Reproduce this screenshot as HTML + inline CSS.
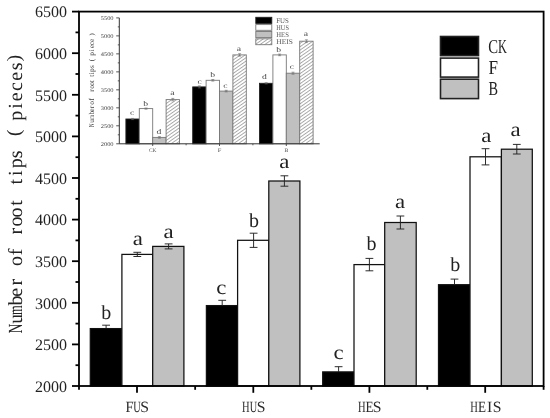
<!DOCTYPE html><html><head><meta charset="utf-8"><style>html,body{margin:0;padding:0;background:#fff;}svg{display:block;} text{text-rendering:geometricPrecision;}</style></head><body>
<svg width="550" height="418" viewBox="0 0 550 418">
<defs><pattern id="hatch" patternUnits="userSpaceOnUse" width="4" height="2.75" patternTransform="rotate(-35)"><rect width="4" height="2.75" fill="#fff"/><line x1="0" y1="1.4" x2="4" y2="1.4" stroke="#999" stroke-width="0.85"/></pattern></defs>
<rect width="550" height="418" fill="#fff"/>
<rect x="90.30" y="328.60" width="31.60" height="57.40" fill="#000" stroke="#111" stroke-width="1.25"/>
<rect x="121.90" y="254.40" width="30.80" height="131.60" fill="#fff" stroke="#111" stroke-width="1.25"/>
<rect x="152.70" y="246.40" width="31.20" height="139.60" fill="#c0c0c0" stroke="#111" stroke-width="1.25"/>
<path d="M106.10 325.20V328.60M102.20 325.20h7.8" stroke="#222" stroke-width="0.95" fill="none"/>
<text x="101.33" y="318.70" font-family="Liberation Serif, serif" font-size="20" textLength="10.00" lengthAdjust="spacingAndGlyphs" fill="#222">b</text>
<path d="M137.30 252.30V256.50M133.40 252.30h7.8M133.40 256.50h7.8" stroke="#222" stroke-width="0.95" fill="none"/>
<text x="132.65" y="245.00" font-family="Liberation Serif, serif" font-size="20" textLength="10.12" lengthAdjust="spacingAndGlyphs" fill="#222">a</text>
<path d="M168.60 243.90V248.90M164.70 243.90h7.8M164.70 248.90h7.8" stroke="#222" stroke-width="0.95" fill="none"/>
<text x="163.40" y="237.70" font-family="Liberation Serif, serif" font-size="20" textLength="10.12" lengthAdjust="spacingAndGlyphs" fill="#222">a</text>
<rect x="206.40" y="305.60" width="31.20" height="80.40" fill="#000" stroke="#111" stroke-width="1.25"/>
<rect x="237.60" y="240.30" width="31.20" height="145.70" fill="#fff" stroke="#111" stroke-width="1.25"/>
<rect x="268.80" y="181.00" width="31.10" height="205.00" fill="#c0c0c0" stroke="#111" stroke-width="1.25"/>
<path d="M222.20 300.30V305.60M218.30 300.30h7.8" stroke="#222" stroke-width="0.95" fill="none"/>
<text x="216.21" y="293.80" font-family="Liberation Serif, serif" font-size="20" textLength="10.12" lengthAdjust="spacingAndGlyphs" fill="#222">c</text>
<path d="M253.60 233.20V247.40M249.70 233.20h7.8M249.70 247.40h7.8" stroke="#222" stroke-width="0.95" fill="none"/>
<text x="249.08" y="227.00" font-family="Liberation Serif, serif" font-size="20" textLength="10.00" lengthAdjust="spacingAndGlyphs" fill="#222">b</text>
<path d="M284.40 175.80V186.20M280.50 175.80h7.8M280.50 186.20h7.8" stroke="#222" stroke-width="0.95" fill="none"/>
<text x="279.20" y="168.40" font-family="Liberation Serif, serif" font-size="20" textLength="10.12" lengthAdjust="spacingAndGlyphs" fill="#222">a</text>
<rect x="322.70" y="371.90" width="31.30" height="14.10" fill="#000" stroke="#111" stroke-width="1.25"/>
<rect x="354.00" y="264.60" width="30.70" height="121.40" fill="#fff" stroke="#111" stroke-width="1.25"/>
<rect x="384.70" y="222.50" width="31.50" height="163.50" fill="#c0c0c0" stroke="#111" stroke-width="1.25"/>
<path d="M338.60 366.70V371.90M334.70 366.70h7.8" stroke="#222" stroke-width="0.95" fill="none"/>
<text x="333.56" y="359.30" font-family="Liberation Serif, serif" font-size="20" textLength="10.12" lengthAdjust="spacingAndGlyphs" fill="#222">c</text>
<path d="M369.40 258.40V270.80M365.50 258.40h7.8M365.50 270.80h7.8" stroke="#222" stroke-width="0.95" fill="none"/>
<text x="366.43" y="250.10" font-family="Liberation Serif, serif" font-size="20" textLength="10.00" lengthAdjust="spacingAndGlyphs" fill="#222">b</text>
<path d="M400.40 216.00V229.00M396.50 216.00h7.8M396.50 229.00h7.8" stroke="#222" stroke-width="0.95" fill="none"/>
<text x="395.05" y="208.20" font-family="Liberation Serif, serif" font-size="20" textLength="10.12" lengthAdjust="spacingAndGlyphs" fill="#222">a</text>
<rect x="438.50" y="284.70" width="31.50" height="101.30" fill="#000" stroke="#111" stroke-width="1.25"/>
<rect x="470.00" y="156.80" width="31.40" height="229.20" fill="#fff" stroke="#111" stroke-width="1.25"/>
<rect x="501.40" y="149.20" width="30.90" height="236.80" fill="#c0c0c0" stroke="#111" stroke-width="1.25"/>
<path d="M454.50 279.10V284.70M450.60 279.10h7.8" stroke="#222" stroke-width="0.95" fill="none"/>
<text x="450.28" y="271.40" font-family="Liberation Serif, serif" font-size="20" textLength="10.00" lengthAdjust="spacingAndGlyphs" fill="#222">b</text>
<path d="M485.50 148.70V164.90M481.60 148.70h7.8M481.60 164.90h7.8" stroke="#222" stroke-width="0.95" fill="none"/>
<text x="481.15" y="142.10" font-family="Liberation Serif, serif" font-size="20" textLength="10.12" lengthAdjust="spacingAndGlyphs" fill="#222">a</text>
<path d="M516.80 144.40V154.00M512.90 144.40h7.8M512.90 154.00h7.8" stroke="#222" stroke-width="0.95" fill="none"/>
<text x="510.40" y="136.10" font-family="Liberation Serif, serif" font-size="20" textLength="10.12" lengthAdjust="spacingAndGlyphs" fill="#222">a</text>
<rect x="79.0" y="11.6" width="464.60" height="374.40" fill="none" stroke="#000" stroke-width="1.8"/>
<line x1="72" y1="386.00" x2="79.0" y2="386.00" stroke="#000" stroke-width="1.8"/>
<text x="67" y="391.80" font-family="Liberation Serif, serif" font-size="16" text-anchor="end" fill="#222">2000</text>
<line x1="75.5" y1="365.20" x2="79.0" y2="365.20" stroke="#000" stroke-width="1.8"/>
<line x1="72" y1="344.40" x2="79.0" y2="344.40" stroke="#000" stroke-width="1.8"/>
<text x="67" y="350.20" font-family="Liberation Serif, serif" font-size="16" text-anchor="end" fill="#222">2500</text>
<line x1="75.5" y1="323.60" x2="79.0" y2="323.60" stroke="#000" stroke-width="1.8"/>
<line x1="72" y1="302.80" x2="79.0" y2="302.80" stroke="#000" stroke-width="1.8"/>
<text x="67" y="308.60" font-family="Liberation Serif, serif" font-size="16" text-anchor="end" fill="#222">3000</text>
<line x1="75.5" y1="282.00" x2="79.0" y2="282.00" stroke="#000" stroke-width="1.8"/>
<line x1="72" y1="261.20" x2="79.0" y2="261.20" stroke="#000" stroke-width="1.8"/>
<text x="67" y="267.00" font-family="Liberation Serif, serif" font-size="16" text-anchor="end" fill="#222">3500</text>
<line x1="75.5" y1="240.40" x2="79.0" y2="240.40" stroke="#000" stroke-width="1.8"/>
<line x1="72" y1="219.60" x2="79.0" y2="219.60" stroke="#000" stroke-width="1.8"/>
<text x="67" y="225.40" font-family="Liberation Serif, serif" font-size="16" text-anchor="end" fill="#222">4000</text>
<line x1="75.5" y1="198.80" x2="79.0" y2="198.80" stroke="#000" stroke-width="1.8"/>
<line x1="72" y1="178.00" x2="79.0" y2="178.00" stroke="#000" stroke-width="1.8"/>
<text x="67" y="183.80" font-family="Liberation Serif, serif" font-size="16" text-anchor="end" fill="#222">4500</text>
<line x1="75.5" y1="157.20" x2="79.0" y2="157.20" stroke="#000" stroke-width="1.8"/>
<line x1="72" y1="136.40" x2="79.0" y2="136.40" stroke="#000" stroke-width="1.8"/>
<text x="67" y="142.20" font-family="Liberation Serif, serif" font-size="16" text-anchor="end" fill="#222">5000</text>
<line x1="75.5" y1="115.60" x2="79.0" y2="115.60" stroke="#000" stroke-width="1.8"/>
<line x1="72" y1="94.80" x2="79.0" y2="94.80" stroke="#000" stroke-width="1.8"/>
<text x="67" y="100.60" font-family="Liberation Serif, serif" font-size="16" text-anchor="end" fill="#222">5500</text>
<line x1="75.5" y1="74.00" x2="79.0" y2="74.00" stroke="#000" stroke-width="1.8"/>
<line x1="72" y1="53.20" x2="79.0" y2="53.20" stroke="#000" stroke-width="1.8"/>
<text x="67" y="59.00" font-family="Liberation Serif, serif" font-size="16" text-anchor="end" fill="#222">6000</text>
<line x1="75.5" y1="32.40" x2="79.0" y2="32.40" stroke="#000" stroke-width="1.8"/>
<line x1="72" y1="11.60" x2="79.0" y2="11.60" stroke="#000" stroke-width="1.8"/>
<text x="67" y="17.40" font-family="Liberation Serif, serif" font-size="16" text-anchor="end" fill="#222">6500</text>
<line x1="137" y1="386.0" x2="137" y2="392.8" stroke="#000" stroke-width="1.8"/>
<line x1="253.3" y1="386.0" x2="253.3" y2="392.8" stroke="#000" stroke-width="1.8"/>
<line x1="369.4" y1="386.0" x2="369.4" y2="392.8" stroke="#000" stroke-width="1.8"/>
<line x1="485.2" y1="386.0" x2="485.2" y2="392.8" stroke="#000" stroke-width="1.8"/>
<line x1="79.0" y1="386.0" x2="79.0" y2="389.8" stroke="#000" stroke-width="1.8"/>
<line x1="195.15" y1="386.0" x2="195.15" y2="389.8" stroke="#000" stroke-width="1.8"/>
<line x1="311.35" y1="386.0" x2="311.35" y2="389.8" stroke="#000" stroke-width="1.8"/>
<line x1="427.3" y1="386.0" x2="427.3" y2="389.8" stroke="#000" stroke-width="1.8"/>
<line x1="543.6" y1="386.0" x2="543.6" y2="389.8" stroke="#000" stroke-width="1.8"/>
<text x="125.39" y="411.50" font-family="Liberation Serif, serif" font-size="15.7" textLength="7.93" lengthAdjust="spacingAndGlyphs" fill="#2a2a2a">F</text>
<text x="133.28" y="411.50" font-family="Liberation Serif, serif" font-size="15.7" textLength="7.43" lengthAdjust="spacingAndGlyphs" fill="#2a2a2a">U</text>
<text x="140.30" y="411.50" font-family="Liberation Serif, serif" font-size="15.7" textLength="8.73" lengthAdjust="spacingAndGlyphs" fill="#2a2a2a">S</text>
<text x="242.00" y="411.50" font-family="Liberation Serif, serif" font-size="15.7" textLength="7.61" lengthAdjust="spacingAndGlyphs" fill="#2a2a2a">H</text>
<text x="249.78" y="411.50" font-family="Liberation Serif, serif" font-size="15.7" textLength="7.43" lengthAdjust="spacingAndGlyphs" fill="#2a2a2a">U</text>
<text x="256.80" y="411.50" font-family="Liberation Serif, serif" font-size="15.7" textLength="8.73" lengthAdjust="spacingAndGlyphs" fill="#2a2a2a">S</text>
<text x="357.95" y="411.50" font-family="Liberation Serif, serif" font-size="15.7" textLength="7.61" lengthAdjust="spacingAndGlyphs" fill="#2a2a2a">H</text>
<text x="365.57" y="411.50" font-family="Liberation Serif, serif" font-size="15.7" textLength="8.03" lengthAdjust="spacingAndGlyphs" fill="#2a2a2a">E</text>
<text x="372.75" y="411.50" font-family="Liberation Serif, serif" font-size="15.7" textLength="8.73" lengthAdjust="spacingAndGlyphs" fill="#2a2a2a">S</text>
<text x="470.35" y="411.50" font-family="Liberation Serif, serif" font-size="15.7" textLength="7.61" lengthAdjust="spacingAndGlyphs" fill="#2a2a2a">H</text>
<text x="477.97" y="411.50" font-family="Liberation Serif, serif" font-size="15.7" textLength="8.03" lengthAdjust="spacingAndGlyphs" fill="#2a2a2a">E</text>
<text x="486.93" y="411.50" font-family="Liberation Serif, serif" font-size="15.7" textLength="5.23" lengthAdjust="spacingAndGlyphs" fill="#2a2a2a">I</text>
<text x="492.85" y="411.50" font-family="Liberation Serif, serif" font-size="15.7" textLength="8.73" lengthAdjust="spacingAndGlyphs" fill="#2a2a2a">S</text>
<text transform="translate(21.8,328.60) rotate(-90)" x="-5.00" font-family="Liberation Serif, serif" font-size="20" textLength="9.91" lengthAdjust="spacingAndGlyphs" fill="#222">N</text>
<text transform="translate(21.8,318.90) rotate(-90)" x="-4.86" font-family="Liberation Serif, serif" font-size="20" textLength="9.79" lengthAdjust="spacingAndGlyphs" fill="#222">u</text>
<text transform="translate(21.8,310.10) rotate(-90)" x="-4.86" font-family="Liberation Serif, serif" font-size="20" textLength="9.65" lengthAdjust="spacingAndGlyphs" fill="#222">m</text>
<text transform="translate(21.8,300.80) rotate(-90)" x="-4.60" font-family="Liberation Serif, serif" font-size="20" textLength="9.96" lengthAdjust="spacingAndGlyphs" fill="#222">b</text>
<text transform="translate(21.8,292.40) rotate(-90)" x="-4.48" font-family="Liberation Serif, serif" font-size="20" textLength="8.88" lengthAdjust="spacingAndGlyphs" fill="#222">e</text>
<text transform="translate(21.8,282.00) rotate(-90)" x="-3.44" font-family="Liberation Serif, serif" font-size="20" textLength="6.66" lengthAdjust="spacingAndGlyphs" fill="#222">r</text>
<text transform="translate(21.8,261.10) rotate(-90)" x="-5.00" font-family="Liberation Serif, serif" font-size="20" textLength="10.00" lengthAdjust="spacingAndGlyphs" fill="#222">o</text>
<text transform="translate(21.8,251.50) rotate(-90)" x="-3.64" font-family="Liberation Serif, serif" font-size="20" textLength="6.66" lengthAdjust="spacingAndGlyphs" fill="#222">f</text>
<text transform="translate(21.8,231.00) rotate(-90)" x="-3.44" font-family="Liberation Serif, serif" font-size="20" textLength="6.66" lengthAdjust="spacingAndGlyphs" fill="#222">r</text>
<text transform="translate(21.8,221.50) rotate(-90)" x="-5.00" font-family="Liberation Serif, serif" font-size="20" textLength="10.00" lengthAdjust="spacingAndGlyphs" fill="#222">o</text>
<text transform="translate(21.8,212.50) rotate(-90)" x="-5.00" font-family="Liberation Serif, serif" font-size="20" textLength="10.00" lengthAdjust="spacingAndGlyphs" fill="#222">o</text>
<text transform="translate(21.8,203.00) rotate(-90)" x="-2.82" font-family="Liberation Serif, serif" font-size="20" textLength="5.56" lengthAdjust="spacingAndGlyphs" fill="#222">t</text>
<text transform="translate(21.8,181.60) rotate(-90)" x="-2.82" font-family="Liberation Serif, serif" font-size="20" textLength="5.56" lengthAdjust="spacingAndGlyphs" fill="#222">t</text>
<text transform="translate(21.8,173.20) rotate(-90)" x="-2.80" font-family="Liberation Serif, serif" font-size="20" textLength="5.56" lengthAdjust="spacingAndGlyphs" fill="#222">i</text>
<text transform="translate(21.8,163.50) rotate(-90)" x="-4.77" font-family="Liberation Serif, serif" font-size="20" textLength="10.00" lengthAdjust="spacingAndGlyphs" fill="#222">p</text>
<text transform="translate(21.8,154.30) rotate(-90)" x="-3.94" font-family="Liberation Serif, serif" font-size="20" textLength="7.78" lengthAdjust="spacingAndGlyphs" fill="#222">s</text>
<text transform="translate(21.8,116.00) rotate(-90)" x="-4.77" font-family="Liberation Serif, serif" font-size="20" textLength="10.00" lengthAdjust="spacingAndGlyphs" fill="#222">p</text>
<text transform="translate(21.8,106.00) rotate(-90)" x="-2.80" font-family="Liberation Serif, serif" font-size="20" textLength="5.56" lengthAdjust="spacingAndGlyphs" fill="#222">i</text>
<text transform="translate(21.8,96.70) rotate(-90)" x="-4.48" font-family="Liberation Serif, serif" font-size="20" textLength="8.88" lengthAdjust="spacingAndGlyphs" fill="#222">e</text>
<text transform="translate(21.8,86.40) rotate(-90)" x="-4.51" font-family="Liberation Serif, serif" font-size="20" textLength="8.88" lengthAdjust="spacingAndGlyphs" fill="#222">c</text>
<text transform="translate(21.8,76.40) rotate(-90)" x="-4.48" font-family="Liberation Serif, serif" font-size="20" textLength="8.88" lengthAdjust="spacingAndGlyphs" fill="#222">e</text>
<text transform="translate(21.8,66.30) rotate(-90)" x="-3.94" font-family="Liberation Serif, serif" font-size="20" textLength="7.78" lengthAdjust="spacingAndGlyphs" fill="#222">s</text>
<text transform="translate(20.0,132.70) rotate(-90)" x="-3.27" font-family="Liberation Serif, serif" font-size="19" textLength="6.33" lengthAdjust="spacingAndGlyphs" fill="#222">(</text>
<text transform="translate(20.0,58.30) rotate(-90)" x="-3.05" font-family="Liberation Serif, serif" font-size="19" textLength="6.33" lengthAdjust="spacingAndGlyphs" fill="#222">)</text>
<rect x="440.5" y="36.50" width="38" height="19.10" fill="#000" stroke="#222" stroke-width="1.6"/>
<text x="488.30" y="52.60" font-family="Liberation Serif, serif" font-size="19.8" textLength="9.82" lengthAdjust="spacingAndGlyphs" fill="#222">C</text>
<text x="498.05" y="52.60" font-family="Liberation Serif, serif" font-size="19.8" textLength="8.88" lengthAdjust="spacingAndGlyphs" fill="#222">K</text>
<rect x="440.5" y="58.10" width="38" height="19.00" fill="#fff" stroke="#222" stroke-width="1.6"/>
<text x="488.41" y="74.40" font-family="Liberation Serif, serif" font-size="19.8" textLength="9.51" lengthAdjust="spacingAndGlyphs" fill="#222">F</text>
<rect x="440.5" y="79.20" width="38" height="19.40" fill="#c0c0c0" stroke="#222" stroke-width="1.6"/>
<text x="488.49" y="95.30" font-family="Liberation Serif, serif" font-size="19.8" textLength="9.51" lengthAdjust="spacingAndGlyphs" fill="#222">B</text>
<rect x="125.90" y="119.00" width="13.40" height="24.80" fill="#000" stroke="#222" stroke-width="0.9"/>
<rect x="139.30" y="108.60" width="13.40" height="35.20" fill="#fff" stroke="#777" stroke-width="0.9"/>
<rect x="152.70" y="137.40" width="13.40" height="6.40" fill="#c0c0c0" stroke="#777" stroke-width="0.9"/>
<rect x="166.10" y="99.60" width="13.40" height="44.20" fill="url(#hatch)" stroke="#777" stroke-width="0.9"/>
<rect x="192.70" y="86.90" width="13.40" height="56.90" fill="#000" stroke="#222" stroke-width="0.9"/>
<rect x="206.10" y="80.30" width="13.40" height="63.50" fill="#fff" stroke="#777" stroke-width="0.9"/>
<rect x="219.50" y="91.10" width="13.40" height="52.70" fill="#c0c0c0" stroke="#777" stroke-width="0.9"/>
<rect x="232.90" y="54.90" width="13.40" height="88.90" fill="url(#hatch)" stroke="#777" stroke-width="0.9"/>
<rect x="259.50" y="83.30" width="13.40" height="60.50" fill="#000" stroke="#222" stroke-width="0.9"/>
<rect x="272.90" y="54.90" width="13.40" height="88.90" fill="#fff" stroke="#777" stroke-width="0.9"/>
<rect x="286.30" y="73.20" width="13.40" height="70.60" fill="#c0c0c0" stroke="#777" stroke-width="0.9"/>
<rect x="299.70" y="41.20" width="13.40" height="102.60" fill="url(#hatch)" stroke="#777" stroke-width="0.9"/>
<path d="M132.60 118.40V119.60M131.10 118.40h3M131.10 119.60h3" stroke="#666" stroke-width="0.6" fill="none"/>
<text x="130.03" y="115.40" font-family="Liberation Serif, serif" font-size="7.4" textLength="4.27" lengthAdjust="spacingAndGlyphs" fill="#444">c</text>
<path d="M146.00 108.00V109.20M144.50 108.00h3M144.50 109.20h3" stroke="#666" stroke-width="0.6" fill="none"/>
<text x="143.28" y="105.90" font-family="Liberation Serif, serif" font-size="7.4" textLength="4.81" lengthAdjust="spacingAndGlyphs" fill="#444">b</text>
<path d="M159.40 136.60V138.20M157.90 136.60h3M157.90 138.20h3" stroke="#666" stroke-width="0.6" fill="none"/>
<text x="156.48" y="134.10" font-family="Liberation Serif, serif" font-size="7.4" textLength="4.81" lengthAdjust="spacingAndGlyphs" fill="#444">d</text>
<path d="M172.80 98.40V100.80M171.30 98.40h3M171.30 100.80h3" stroke="#666" stroke-width="0.6" fill="none"/>
<text x="170.26" y="95.30" font-family="Liberation Serif, serif" font-size="7.4" textLength="4.27" lengthAdjust="spacingAndGlyphs" fill="#444">a</text>
<path d="M199.40 85.90V87.90M197.90 85.90h3M197.90 87.90h3" stroke="#666" stroke-width="0.6" fill="none"/>
<text x="197.63" y="84.00" font-family="Liberation Serif, serif" font-size="7.4" textLength="4.27" lengthAdjust="spacingAndGlyphs" fill="#444">c</text>
<path d="M212.80 79.50V81.10M211.30 79.50h3M211.30 81.10h3" stroke="#666" stroke-width="0.6" fill="none"/>
<text x="210.18" y="77.00" font-family="Liberation Serif, serif" font-size="7.4" textLength="4.81" lengthAdjust="spacingAndGlyphs" fill="#444">b</text>
<path d="M226.20 90.30V91.90M224.70 90.30h3M224.70 91.90h3" stroke="#666" stroke-width="0.6" fill="none"/>
<text x="223.33" y="87.50" font-family="Liberation Serif, serif" font-size="7.4" textLength="4.27" lengthAdjust="spacingAndGlyphs" fill="#444">c</text>
<path d="M239.60 53.70V56.10M238.10 53.70h3M238.10 56.10h3" stroke="#666" stroke-width="0.6" fill="none"/>
<text x="236.66" y="51.30" font-family="Liberation Serif, serif" font-size="7.4" textLength="4.27" lengthAdjust="spacingAndGlyphs" fill="#444">a</text>
<path d="M266.20 82.70V83.90M264.70 82.70h3M264.70 83.90h3" stroke="#666" stroke-width="0.6" fill="none"/>
<text x="262.08" y="79.00" font-family="Liberation Serif, serif" font-size="7.4" textLength="4.81" lengthAdjust="spacingAndGlyphs" fill="#444">d</text>
<path d="M279.60 54.10V55.70M278.10 54.10h3M278.10 55.70h3" stroke="#666" stroke-width="0.6" fill="none"/>
<text x="276.28" y="51.80" font-family="Liberation Serif, serif" font-size="7.4" textLength="4.81" lengthAdjust="spacingAndGlyphs" fill="#444">b</text>
<path d="M293.00 72.20V74.20M291.50 72.20h3M291.50 74.20h3" stroke="#666" stroke-width="0.6" fill="none"/>
<text x="289.83" y="69.00" font-family="Liberation Serif, serif" font-size="7.4" textLength="4.27" lengthAdjust="spacingAndGlyphs" fill="#444">c</text>
<path d="M306.40 39.80V42.60M304.90 39.80h3M304.90 42.60h3" stroke="#666" stroke-width="0.6" fill="none"/>
<text x="303.76" y="35.60" font-family="Liberation Serif, serif" font-size="7.4" textLength="4.27" lengthAdjust="spacingAndGlyphs" fill="#444">a</text>
<path d="M119.3 17.90V143.8H319.7" stroke="#333" stroke-width="1" fill="none"/>
<line x1="116.2" y1="143.80" x2="119.3" y2="143.80" stroke="#444" stroke-width="0.9"/>
<text x="100.7" y="145.50" font-family="Liberation Serif, serif" font-size="5.6" textLength="12.9" lengthAdjust="spacingAndGlyphs" fill="#444">2000</text>
<line x1="117.8" y1="134.81" x2="119.3" y2="134.81" stroke="#444" stroke-width="0.9"/>
<line x1="116.2" y1="125.81" x2="119.3" y2="125.81" stroke="#444" stroke-width="0.9"/>
<text x="100.7" y="127.51" font-family="Liberation Serif, serif" font-size="5.6" textLength="12.9" lengthAdjust="spacingAndGlyphs" fill="#444">2500</text>
<line x1="117.8" y1="116.82" x2="119.3" y2="116.82" stroke="#444" stroke-width="0.9"/>
<line x1="116.2" y1="107.83" x2="119.3" y2="107.83" stroke="#444" stroke-width="0.9"/>
<text x="100.7" y="109.53" font-family="Liberation Serif, serif" font-size="5.6" textLength="12.9" lengthAdjust="spacingAndGlyphs" fill="#444">3000</text>
<line x1="117.8" y1="98.84" x2="119.3" y2="98.84" stroke="#444" stroke-width="0.9"/>
<line x1="116.2" y1="89.84" x2="119.3" y2="89.84" stroke="#444" stroke-width="0.9"/>
<text x="100.7" y="91.54" font-family="Liberation Serif, serif" font-size="5.6" textLength="12.9" lengthAdjust="spacingAndGlyphs" fill="#444">3500</text>
<line x1="117.8" y1="80.85" x2="119.3" y2="80.85" stroke="#444" stroke-width="0.9"/>
<line x1="116.2" y1="71.86" x2="119.3" y2="71.86" stroke="#444" stroke-width="0.9"/>
<text x="100.7" y="73.56" font-family="Liberation Serif, serif" font-size="5.6" textLength="12.9" lengthAdjust="spacingAndGlyphs" fill="#444">4000</text>
<line x1="117.8" y1="62.86" x2="119.3" y2="62.86" stroke="#444" stroke-width="0.9"/>
<line x1="116.2" y1="53.87" x2="119.3" y2="53.87" stroke="#444" stroke-width="0.9"/>
<text x="100.7" y="55.57" font-family="Liberation Serif, serif" font-size="5.6" textLength="12.9" lengthAdjust="spacingAndGlyphs" fill="#444">4500</text>
<line x1="117.8" y1="44.88" x2="119.3" y2="44.88" stroke="#444" stroke-width="0.9"/>
<line x1="116.2" y1="35.89" x2="119.3" y2="35.89" stroke="#444" stroke-width="0.9"/>
<text x="100.7" y="37.59" font-family="Liberation Serif, serif" font-size="5.6" textLength="12.9" lengthAdjust="spacingAndGlyphs" fill="#444">5000</text>
<line x1="117.8" y1="26.89" x2="119.3" y2="26.89" stroke="#444" stroke-width="0.9"/>
<line x1="116.2" y1="17.90" x2="119.3" y2="17.90" stroke="#444" stroke-width="0.9"/>
<text x="100.7" y="19.60" font-family="Liberation Serif, serif" font-size="5.6" textLength="12.9" lengthAdjust="spacingAndGlyphs" fill="#444">5500</text>
<line x1="152.7" y1="143.8" x2="152.7" y2="146.00" stroke="#444" stroke-width="0.9"/>
<line x1="219.5" y1="143.8" x2="219.5" y2="146.00" stroke="#444" stroke-width="0.9"/>
<line x1="286.3" y1="143.8" x2="286.3" y2="146.00" stroke="#444" stroke-width="0.9"/>
<line x1="186.10" y1="143.8" x2="186.10" y2="145.30" stroke="#444" stroke-width="0.9"/>
<line x1="252.90" y1="143.8" x2="252.90" y2="145.30" stroke="#444" stroke-width="0.9"/>
<text x="149.05" y="152.2" font-family="Liberation Serif, serif" font-size="5.2" textLength="7.3" lengthAdjust="spacingAndGlyphs" fill="#555">CK</text>
<text x="217.70" y="152.2" font-family="Liberation Serif, serif" font-size="5.2" textLength="3.6" lengthAdjust="spacingAndGlyphs" fill="#555">F</text>
<text x="284.40" y="152.2" font-family="Liberation Serif, serif" font-size="5.2" textLength="3.8" lengthAdjust="spacingAndGlyphs" fill="#555">B</text>
<text transform="translate(94.0,125.20) rotate(-90)" x="-1.95" font-family="Liberation Serif, serif" font-size="7.4" textLength="3.88" lengthAdjust="spacingAndGlyphs" fill="#444">N</text>
<text transform="translate(94.0,120.90) rotate(-90)" x="-1.84" font-family="Liberation Serif, serif" font-size="7.4" textLength="3.70" lengthAdjust="spacingAndGlyphs" fill="#444">u</text>
<text transform="translate(94.0,116.80) rotate(-90)" x="-1.90" font-family="Liberation Serif, serif" font-size="7.4" textLength="3.78" lengthAdjust="spacingAndGlyphs" fill="#444">m</text>
<text transform="translate(94.0,112.90) rotate(-90)" x="-1.71" font-family="Liberation Serif, serif" font-size="7.4" textLength="3.70" lengthAdjust="spacingAndGlyphs" fill="#444">b</text>
<text transform="translate(94.0,110.00) rotate(-90)" x="-1.66" font-family="Liberation Serif, serif" font-size="7.4" textLength="3.28" lengthAdjust="spacingAndGlyphs" fill="#444">e</text>
<text transform="translate(94.0,107.00) rotate(-90)" x="-1.27" font-family="Liberation Serif, serif" font-size="7.4" textLength="2.46" lengthAdjust="spacingAndGlyphs" fill="#444">r</text>
<text transform="translate(94.0,102.90) rotate(-90)" x="-1.85" font-family="Liberation Serif, serif" font-size="7.4" textLength="3.70" lengthAdjust="spacingAndGlyphs" fill="#444">o</text>
<text transform="translate(94.0,99.30) rotate(-90)" x="-1.35" font-family="Liberation Serif, serif" font-size="7.4" textLength="2.46" lengthAdjust="spacingAndGlyphs" fill="#444">f</text>
<text transform="translate(94.0,90.60) rotate(-90)" x="-1.27" font-family="Liberation Serif, serif" font-size="7.4" textLength="2.46" lengthAdjust="spacingAndGlyphs" fill="#444">r</text>
<text transform="translate(94.0,87.00) rotate(-90)" x="-1.85" font-family="Liberation Serif, serif" font-size="7.4" textLength="3.70" lengthAdjust="spacingAndGlyphs" fill="#444">o</text>
<text transform="translate(94.0,84.00) rotate(-90)" x="-1.85" font-family="Liberation Serif, serif" font-size="7.4" textLength="3.70" lengthAdjust="spacingAndGlyphs" fill="#444">o</text>
<text transform="translate(94.0,81.30) rotate(-90)" x="-1.04" font-family="Liberation Serif, serif" font-size="7.4" textLength="2.06" lengthAdjust="spacingAndGlyphs" fill="#444">t</text>
<text transform="translate(94.0,75.80) rotate(-90)" x="-1.04" font-family="Liberation Serif, serif" font-size="7.4" textLength="2.06" lengthAdjust="spacingAndGlyphs" fill="#444">t</text>
<text transform="translate(94.0,73.20) rotate(-90)" x="-1.04" font-family="Liberation Serif, serif" font-size="7.4" textLength="2.06" lengthAdjust="spacingAndGlyphs" fill="#444">i</text>
<text transform="translate(94.0,70.20) rotate(-90)" x="-1.77" font-family="Liberation Serif, serif" font-size="7.4" textLength="3.70" lengthAdjust="spacingAndGlyphs" fill="#444">p</text>
<text transform="translate(94.0,66.50) rotate(-90)" x="-1.46" font-family="Liberation Serif, serif" font-size="7.4" textLength="2.88" lengthAdjust="spacingAndGlyphs" fill="#444">s</text>
<text transform="translate(94.0,60.00) rotate(-90)" x="-1.28" font-family="Liberation Serif, serif" font-size="7.4" textLength="2.46" lengthAdjust="spacingAndGlyphs" fill="#444">(</text>
<text transform="translate(94.0,54.10) rotate(-90)" x="-1.77" font-family="Liberation Serif, serif" font-size="7.4" textLength="3.70" lengthAdjust="spacingAndGlyphs" fill="#444">p</text>
<text transform="translate(94.0,50.40) rotate(-90)" x="-1.04" font-family="Liberation Serif, serif" font-size="7.4" textLength="2.06" lengthAdjust="spacingAndGlyphs" fill="#444">i</text>
<text transform="translate(94.0,46.60) rotate(-90)" x="-1.66" font-family="Liberation Serif, serif" font-size="7.4" textLength="3.28" lengthAdjust="spacingAndGlyphs" fill="#444">e</text>
<text transform="translate(94.0,43.50) rotate(-90)" x="-1.67" font-family="Liberation Serif, serif" font-size="7.4" textLength="3.28" lengthAdjust="spacingAndGlyphs" fill="#444">c</text>
<text transform="translate(94.0,40.40) rotate(-90)" x="-1.66" font-family="Liberation Serif, serif" font-size="7.4" textLength="3.28" lengthAdjust="spacingAndGlyphs" fill="#444">e</text>
<text transform="translate(94.0,34.50) rotate(-90)" x="-1.19" font-family="Liberation Serif, serif" font-size="7.4" textLength="2.46" lengthAdjust="spacingAndGlyphs" fill="#444">)</text>
<rect x="255.8" y="17.30" width="16" height="6.10" fill="#000" stroke="#222" stroke-width="0.9"/>
<text x="276.3" y="22.65" font-family="Liberation Serif, serif" font-size="7.2" textLength="12.6" lengthAdjust="spacingAndGlyphs" fill="#555">FUS</text>
<rect x="255.8" y="24.60" width="16" height="5.70" fill="#fff" stroke="#777" stroke-width="0.9"/>
<text x="276.3" y="29.75" font-family="Liberation Serif, serif" font-size="7.2" textLength="12.6" lengthAdjust="spacingAndGlyphs" fill="#555">HUS</text>
<rect x="255.8" y="31.50" width="16" height="6.10" fill="#c0c0c0" stroke="#777" stroke-width="0.9"/>
<text x="276.3" y="36.85" font-family="Liberation Serif, serif" font-size="7.2" textLength="12.6" lengthAdjust="spacingAndGlyphs" fill="#555">HES</text>
<rect x="255.8" y="38.80" width="16" height="5.90" fill="url(#hatch)" stroke="#777" stroke-width="0.9"/>
<text x="276.3" y="44.05" font-family="Liberation Serif, serif" font-size="7.2" textLength="16.5" lengthAdjust="spacingAndGlyphs" fill="#555">HEIS</text>
</svg></body></html>
